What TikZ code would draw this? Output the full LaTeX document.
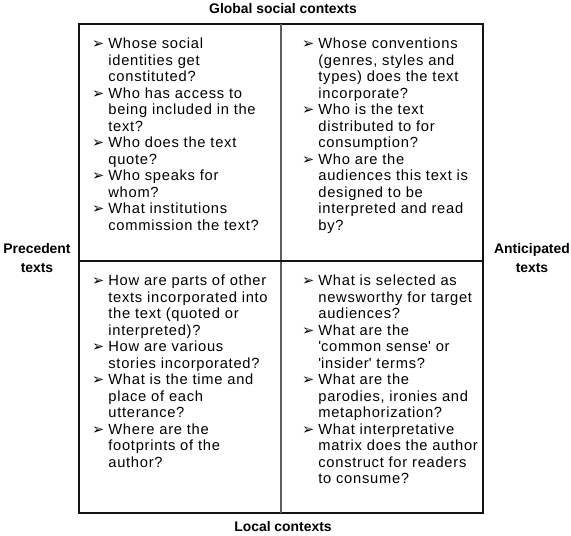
\documentclass[tikz,border=0pt]{standalone}
\usepackage{fontspec}
\setmainfont{Liberation Sans}
\newfontfamily\cellfont[LetterSpace=5]{Liberation Sans}
\newfontfamily\arrowfont{DejaVu Sans}
\usetikzlibrary{positioning}
\definecolor{GridInk}{HTML}{141414}
\definecolor{GridMid}{HTML}{5E5E5E}
\newcommand{\qbullet}{{\arrowfont\fontsize{14.5}{14.5}\selectfont\char"27A2}}
\newcommand{\qlist}[1]{\begin{tabular}{@{}l@{\hspace{4pt}}l@{}}#1\end{tabular}}

\begin{document}
\begin{tikzpicture}[x=1pt, y=1pt,
  cell/.style={anchor=north west, inner sep=0pt, align=left,
               font=\cellfont\fontsize{14.7}{16.5}\selectfont},
  side/.style={inner sep=0pt, align=center,
               font=\bfseries\fontsize{13.9}{19}\selectfont}]
  \useasboundingbox (0,0) rectangle (571,536);
  % the 2x2 frame
  \draw[GridInk, line width=1.5pt] (79,23) rectangle (483,512);
  \draw[GridMid, line width=1.4pt] (281,23) -- (281,512);
  \draw[GridInk, line width=1.4pt] (79,275) -- (483,275);
  % axis labels
  \node[side] (global) at (283,527) {Global social contexts};
  \node[side] (local) at (283,9) {Local contexts};
  \node[side] (prec) at (37,278) {Precedent\\texts};
  \node[side] (antic) at (532,278) {Anticipated\\texts};
  % questions
  \node[cell] (tl) at (92,499) {\qlist{%
    \qbullet & Whose social\\
             & identities get\\
             & constituted?\\
    \qbullet & Who has access to\\
             & being included in the\\
             & text?\\
    \qbullet & Who does the text\\
             & quote?\\
    \qbullet & Who speaks for\\
             & whom?\\
    \qbullet & What institutions\\
             & commission the text?}};
  \node[cell] (tr) at (302,499) {\qlist{%
    \qbullet & Whose conventions\\
             & (genres, styles and\\
             & types) does the text\\
             & incorporate?\\
    \qbullet & Who is the text\\
             & distributed to for\\
             & consumption?\\
    \qbullet & Who are the\\
             & audiences this text is\\
             & designed to be\\
             & interpreted and read\\
             & by?}};
  \node[cell] (bl) at (92,262) {\qlist{%
    \qbullet & How are parts of other\\
             & texts incorporated into\\
             & the text (quoted or\\
             & interpreted)?\\
    \qbullet & How are various\\
             & stories incorporated?\\
    \qbullet & What is the time and\\
             & place of each\\
             & utterance?\\
    \qbullet & Where are the\\
             & footprints of the\\
             & author?}};
  \node[cell] (br) at (302,262) {\qlist{%
    \qbullet & What is selected as\\
             & newsworthy for target\\
             & audiences?\\
    \qbullet & What are the\\
             & \textquotesingle common sense\textquotesingle{} or\\
             & \textquotesingle insider\textquotesingle{} terms?\\
    \qbullet & What are the\\
             & parodies, ironies and\\
             & metaphorization?\\
    \qbullet & What interpretative\\
             & matrix does the author\\
             & construct for readers\\
             & to consume?}};
\end{tikzpicture}
\end{document}
